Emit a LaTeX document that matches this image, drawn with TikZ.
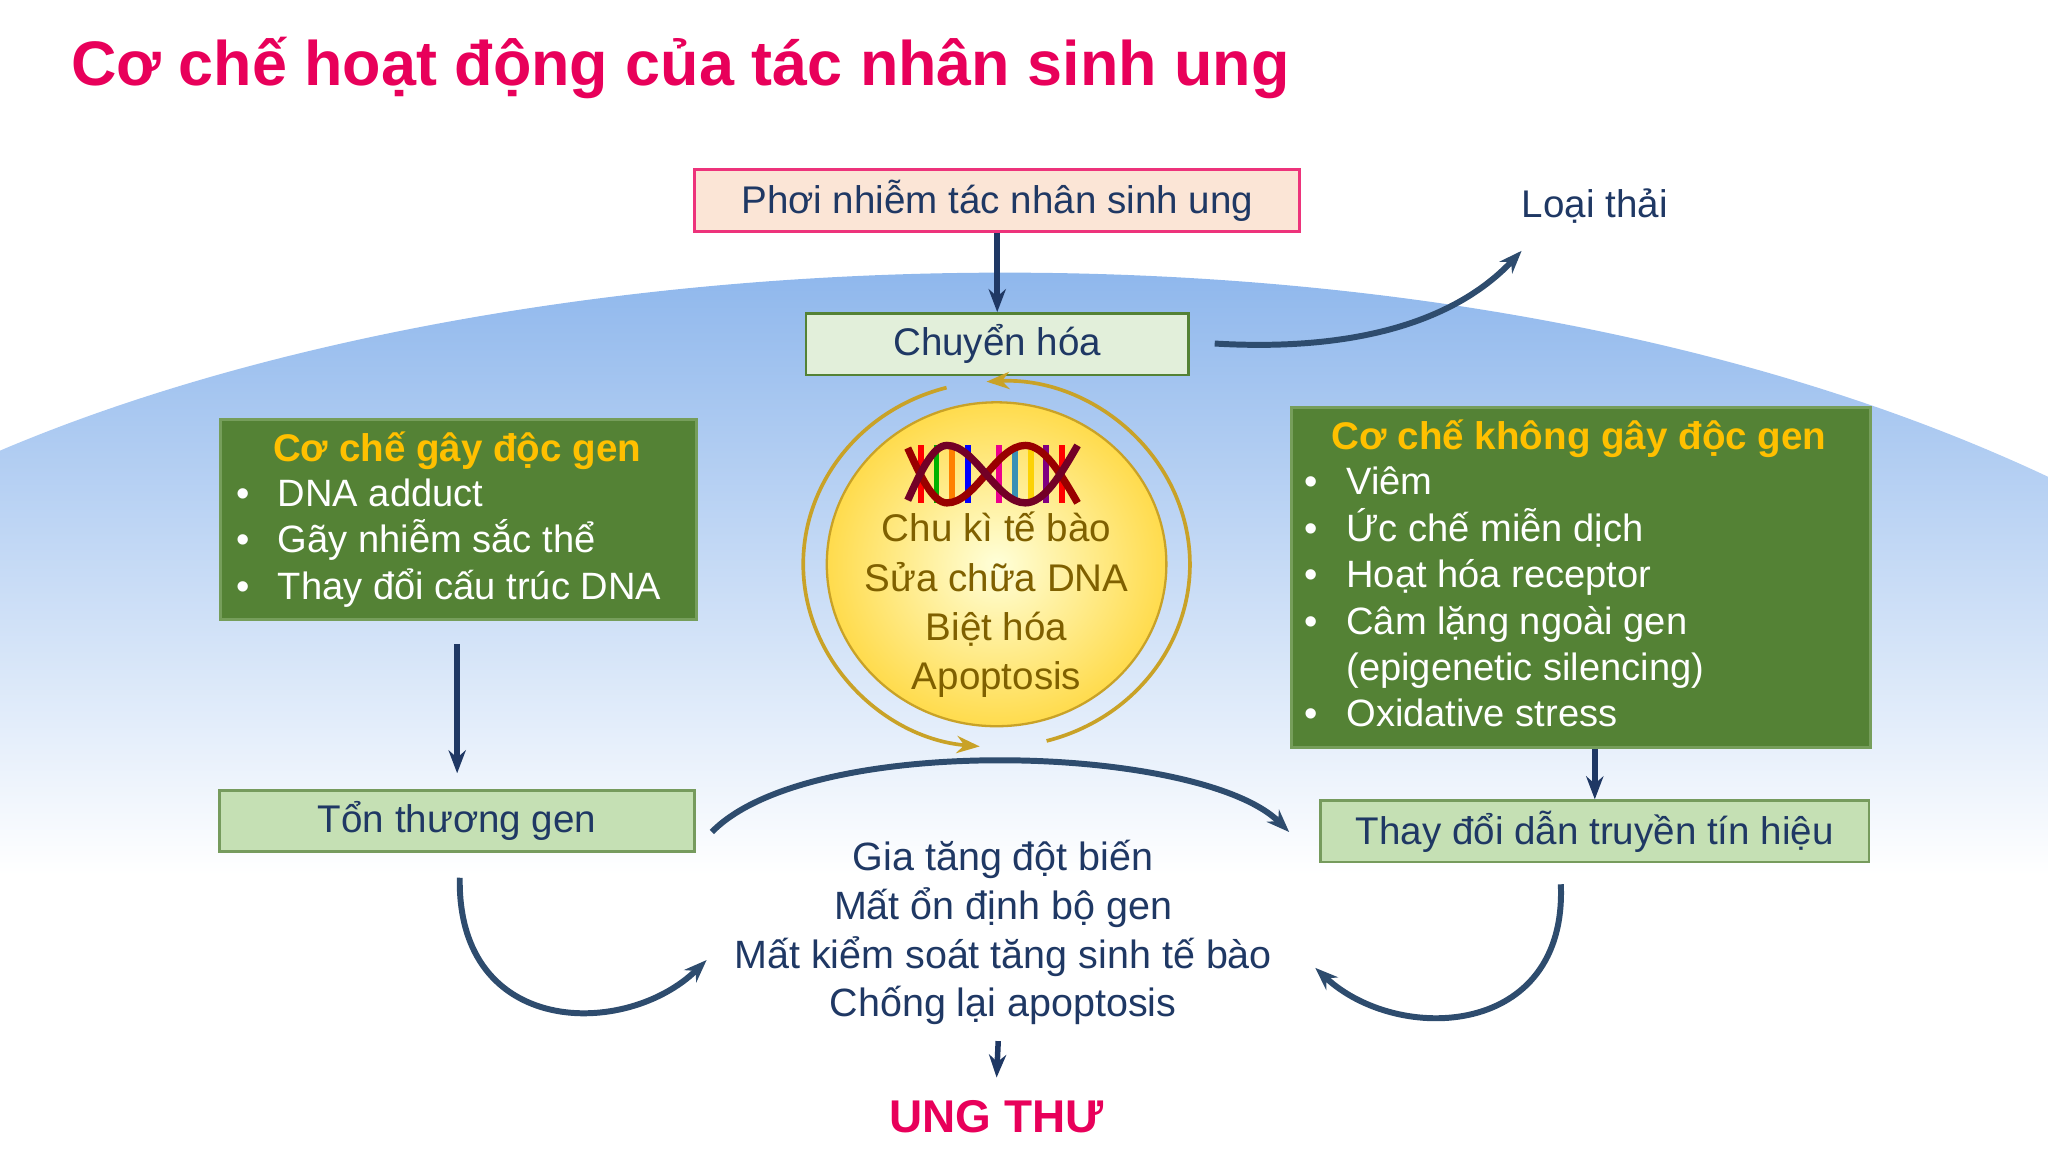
\documentclass[tikz,border=0pt]{standalone}
\usepackage{fontspec}
\setmainfont{Liberation Sans}
\usetikzlibrary{positioning,calc,arrows.meta}
\definecolor{magentared}{HTML}{E8005A}
\definecolor{navy}{HTML}{1F3864}
\definecolor{curvblue}{HTML}{2E4C6E}
\definecolor{darkgreen}{HTML}{548235}
\definecolor{lightgreen}{HTML}{C5E0B4}
\definecolor{palegreen}{HTML}{E2EFDA}
\definecolor{palepink}{HTML}{FBE5D6}
\definecolor{goldtext}{HTML}{FFC000}
\definecolor{ringgold}{HTML}{C9A227}
\definecolor{browntext}{HTML}{7F6000}
\definecolor{domeblue}{HTML}{8DB6EC}

\begin{document}
\begin{tikzpicture}[>={Stealth[length=5pt]},
                txt/.style={font=\fontsize{8.4}{10}\selectfont,text=navy},
                step box/.style={draw,line width=0.6pt,minimum height=0.47cm,inner sep=0pt,font=\fontsize{8.4}{10}\selectfont,text=navy},
                mech box/.style={draw=darkgreen!70!lightgreen,fill=darkgreen,line width=0.6pt,anchor=north west,inner sep=0pt},
                mech head/.style={anchor=north,inner sep=0pt,font=\fontsize{8.4}{10}\selectfont\bfseries,text=goldtext},
                mech list/.style={anchor=north west,text=white,align=left,font=\fontsize{8.3}{10.1}\selectfont,inner sep=0pt},
                down/.style={->,navy,line width=1.2pt},
                loop/.style={->,curvblue,line width=1.3pt}]
\useasboundingbox (0,0) rectangle (15.68,-8.82);
%Background dome
\begin{scope}
  \clip (0,-3.45) .. controls (4,-1.75) and (11,-1.45) .. (15.68,-3.65) -- (15.68,-8.82) -- (0,-8.82) -- cycle;
  \shade[top color=domeblue,bottom color=white] (0,-2) rectangle (15.68,-6.7);
\end{scope}
%Title
\node[anchor=west,font=\fontsize{13.7}{16}\selectfont\bfseries,text=magentared] (title) at (0.42,-0.52) {Cơ chế hoạt động của tác nhân sinh ung};
%Nodes
\node[step box,draw=magentared!80,fill=palepink,minimum width=4.63cm] (expo) at (7.635,-1.535) {Phơi nhiễm tác nhân sinh ung};
\node[step box,draw=darkgreen,fill=palegreen,minimum width=2.93cm] (meta) at (7.635,-2.635) {Chuyển hóa};
\node[txt] (elim) at (12.21,-1.58) {Loại thải};
\node[mech box,minimum width=3.64cm,minimum height=1.53cm] (geno) at (1.68,-3.2) {};
\node[mech head] (genohead) at (3.5,-3.3) {Cơ chế gây độc gen};
\node[mech list] (genolist) at (1.8,-3.66)
  {•\hspace{0.75em}DNA adduct\\ •\hspace{0.75em}Gãy nhiễm sắc thể\\ •\hspace{0.75em}Thay đổi cấu trúc DNA};
\node[mech box,minimum width=4.43cm,minimum height=2.6cm] (nongeno) at (9.88,-3.11) {};
\node[mech head] (nongenohead) at (12.09,-3.21) {Cơ chế không gây độc gen};
\node[mech list] (nongenolist) at (9.98,-3.57)
  {•\hspace{0.75em}Viêm\\ •\hspace{0.75em}Ức chế miễn dịch\\ •\hspace{0.75em}Hoạt hóa receptor\\ •\hspace{0.75em}Câm lặng ngoài gen\\ \phantom{•}\hspace{0.75em}(epigenetic silencing)\\ •\hspace{0.75em}Oxidative stress};
\node[step box,draw=darkgreen!80,fill=lightgreen,minimum width=3.64cm] (damage) at (3.5,-6.285) {Tổn thương gen};
\node[step box,draw=darkgreen!80,fill=lightgreen,minimum width=4.2cm] (signal) at (12.21,-6.365) {Thay đổi dẫn truyền tín hiệu};
%Cell cycle circle
\shade[inner color=yellow!15,outer color=yellow!60!orange!70,draw=ringgold,line width=0.5pt] (7.63,-4.32) ellipse (1.3cm and 1.24cm);
\node[align=center,text=browntext,font=\fontsize{8.4}{10.7}\selectfont] (cycle) at (7.63,-4.63) {Chu kì tế bào\\ Sửa chữa DNA\\ Biệt hóa\\ Apoptosis};
\draw[->,ringgold,line width=0.8pt] (7.63,-4.32) ++(105:1.48cm and 1.40cm) arc (105:265:1.48cm and 1.40cm);
\draw[->,ringgold,line width=0.8pt] (7.63,-4.32) ++(-75:1.48cm and 1.40cm) arc (-75:93:1.48cm and 1.40cm);
%DNA icon
\begin{scope}[shift={(6.95,-3.63)}]
  \foreach \x/\c in {0.1/red,0.22/green!70!black,0.34/orange,0.46/blue,0.7/magenta,0.82/cyan!70!black,0.94/yellow!70!orange,1.06/violet,1.18/red}
    \draw[\c,line width=1.3pt] (\x,0.22) -- (\x,-0.22);
  \draw[red!60!black,line width=1.6pt] (0,0.2) sin (0.3,-0.22) cos (0.6,0) sin (0.9,0.22) cos (1.3,-0.22);
  \draw[purple!60!black,line width=1.6pt] (0,-0.2) sin (0.3,0.22) cos (0.6,0) sin (0.9,-0.22) cos (1.3,0.22);
\end{scope}
%Outcome
\node[align=center,txt,font=\fontsize{8.6}{10.6}\selectfont] (outcome) at (7.68,-7.14) {Gia tăng đột biến\\ Mất ổn định bộ gen\\ Mất kiểm soát tăng sinh tế bào\\ Chống lại apoptosis};
\node[font=\fontsize{10}{12}\selectfont\bfseries,text=magentared] (cancer) at (7.63,-8.55) {UNG THƯ};
%Connectors
\draw[down] (expo) -- (meta);
\coordinate (metaout) at (9.3,-2.63);
\coordinate (elimin) at (11.65,-1.92);
\draw[loop] (metaout) .. controls (10.5,-2.7) and (11.2,-2.4) .. (elimin);
\draw[down] (3.5,-4.93) -- (3.5,-5.92);
\draw[down] (nongeno.south -| signal) -- (signal);
\coordinate (damageout) at (5.45,-6.37);
\coordinate (signalin) at (9.87,-6.37);
\draw[loop] (damageout) .. controls (6.2,-5.6) and (9.2,-5.7) .. (signalin);
\coordinate (leftloop) at (3.52,-6.72);
\coordinate (leftin) at (5.41,-7.35);
\draw[loop] (leftloop) .. controls (3.5,-7.95) and (4.8,-7.95) .. (leftin);
\coordinate (rightloop) at (11.95,-6.77);
\coordinate (rightin) at (10.07,-7.41);
\draw[loop] (rightloop) .. controls (12.0,-7.95) and (10.7,-8.0) .. (rightin);
\draw[down] (outcome) -- (7.63,-8.25);
\end{tikzpicture}
\end{document}
